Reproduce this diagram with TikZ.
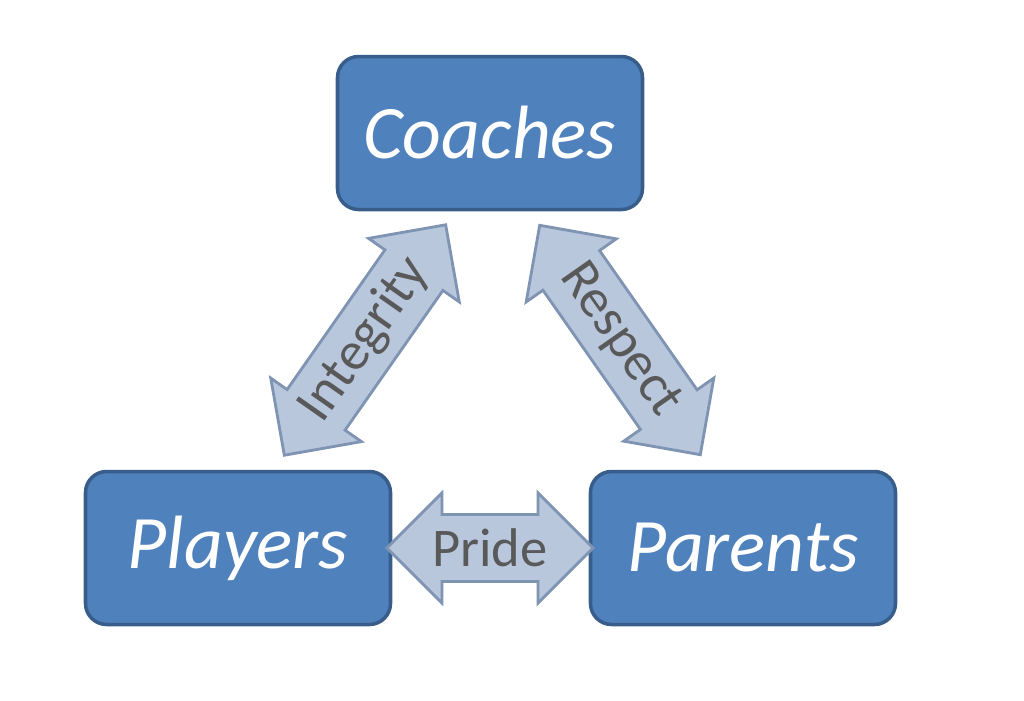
\documentclass[tikz,border=0pt]{standalone}
\usepackage{fontspec}
\setmainfont{Carlito}
\usetikzlibrary{shapes.arrows}
\definecolor{boxblue}{HTML}{4F81BD}
\definecolor{boxline}{HTML}{385D8A}
\definecolor{arrfill}{HTML}{B9C7DD}
\definecolor{arrline}{HTML}{7F93B2}
\definecolor{arrtext}{HTML}{595959}
\tikzset{
  grp/.style={draw=boxline,line width=1pt,fill=boxblue,rounded corners=6pt,
    minimum width=3.05cm,minimum height=1.53cm,text=white,
    font=\fontsize{21.5}{24}\selectfont\itshape},
  link/.style={double arrow,draw=arrline,line width=.8pt,fill=arrfill,
    minimum height=#1,minimum width=1.1cm,inner sep=3pt,
    double arrow head extend=.2cm,text=arrtext,
    font=\fontsize{15.5}{18}\selectfont}
}
\begin{document}
\begin{tikzpicture}
	\useasboundingbox(0,0)rectangle(10.24,7);
	\node[grp](C)at(4.90,5.67){Coaches};
	\node[grp](Pl)at(2.38,1.52){Players};
	\node[grp](Pa)at(7.43,1.52){Parents};
	\node[link=2.8cm,rotate=55](I)at(3.65,3.60){Integrity};
	\node[link=2.8cm,rotate=-55](R)at(6.20,3.60){Respect};
	\node[link=1.95cm](Pr)at(4.90,1.52){Pride};
\end{tikzpicture}
\end{document}
